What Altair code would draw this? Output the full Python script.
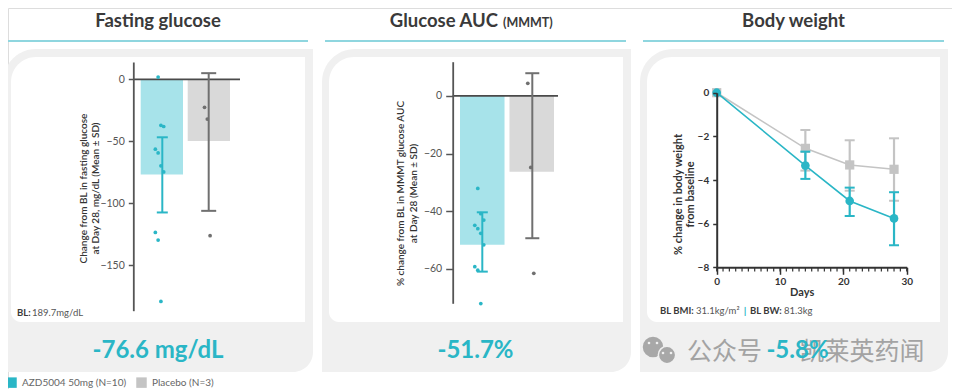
import altair as alt
import pandas as pd

# ---------------- data ----------------
groups = ["AZD5004 50mg (N=10)", "Placebo (N=3)"]
panel_titles = ["Fasting glucose", "Glucose AUC", "Body weight"]
title_suffix = "(MMMT)"
headlines = ["-76.6 mg/dL", "-51.7%", "-5.8%"]
fg_footnote = ["BL:", "189.7mg/dL"]
bw_footnote = ["BL BMI:", "31.1kg/m²", "|", "BL BW:", "81.3kg"]
watermark = ["公众号", "凯莱英药闻"]

# Fasting glucose: change from BL at day 28 (mg/dL)
fg_mean = [-76.6, -49.7]
fg_low = [-107.3, -106.0]
fg_high = [-46.7, 5.0]
fg_azd_points = [1.9, -37.0, -38.0, -56.3, -59.3, -69.7, -74.6, -123.4, -129.6, -179.0]
fg_pbo_points = [-22.5, -32.0, -126.0]
fg_ticks = [0, -50, -100, -150]
fg_ytitle = ["Change from BL in fasting glucose", "at Day 28, mg/dL (Mean ± SD)"]

# Glucose AUC (MMTT): % change from BL at day 28
auc_mean = [-51.7, -26.3]
auc_low = [-61.0, -49.4]
auc_high = [-40.4, 7.9]
auc_azd_points = [-32.1, -40.9, -43.1, -44.9, -46.1, -47.7, -51.7, -59.3, -60.5, -72.1]
auc_pbo_points = [4.4, -24.8, -61.6]
auc_ticks = [0, -20, -40, -60]
auc_ytitle = ["% change from BL in MMMT glucose AUC", "at Day 28 (Mean ± SD)"]

# Body weight: % change from baseline
bw_days = [0, 14, 21, 28]
bw_azd_mean = [0, -3.34, -4.96, -5.76]
bw_azd_low = [0, -3.95, -5.65, -6.99]
bw_azd_high = [0, -2.70, -4.35, -4.56]
bw_pbo_mean = [0, -2.55, -3.31, -3.51]
bw_pbo_low = [0, -3.57, -4.49, -4.95]
bw_pbo_high = [0, -1.71, -2.18, -2.09]
bw_yticks = [0, -2, -4, -6, -8]
bw_xticks = [0, 10, 20, 30]
bw_minor_ticks = list(range(0, 31))
bw_ytitle = ["% change in body weight", "from baseline"]
bw_xtitle = "Days"

# ---------------- styling ----------------
CYAN = "#2ab6c6"
CYAN_LIGHT = "#a7e3ea"
GRAY_BAR = "#d9d9d9"
GRAY_DARK = "#707070"
GRAY_LINE = "#c4c4c4"
PANEL_BG = "#f0f0f0"
UNDERLINE = "#8fd6df"
TXT = "#3a3a3a"
FONT = "Lato"
CJK = "Noto Sans CJK SC"

W, H = 944, 381


def pg(v):
    """page pixel -> plot pixel"""
    return v - 8


one = pd.DataFrame({"k": [0]})


def rect(x0, x1, y0, y1, color, **kw):
    return alt.Chart(one).mark_rect(color=color, **kw).encode(
        x=alt.value(pg(x0)), x2=alt.value(pg(x1)), y=alt.value(pg(y0)), y2=alt.value(pg(y1)))


def hline(x0, x1, y, color, width):
    return alt.Chart(one).mark_rule(color=color, strokeWidth=width).encode(
        x=alt.value(pg(x0)), x2=alt.value(pg(x1)), y=alt.value(pg(y)))


def label(text, x, y, size, color, weight="normal", align="center", baseline="middle", font=FONT, **kw):
    return alt.Chart(one).mark_text(text=text, fontSize=size, color=color, fontWeight=weight,
                                    align=align, baseline=baseline, font=font, **kw).encode(
        x=alt.value(pg(x)), y=alt.value(pg(y)))


def dot(x, y, size, color, **kw):
    return alt.Chart(one).mark_circle(size=size, color=color, opacity=1, **kw).encode(
        x=alt.value(pg(x)), y=alt.value(pg(y)))


layers = []

# panel backgrounds
panels = [((3, 313), (11, 305), (8, 308)),
          ((322, 631), (329, 623), (325, 626)),
          ((640, 948), (647, 940), (643, 944))]
for (gx, wx, ux) in panels:
    layers.append(rect(gx[0], gx[1], 49, 372, PANEL_BG, cornerRadiusTopLeft=33, cornerRadiusBottomRight=20))
    layers.append(rect(wx[0], wx[1], 57, 322, "white", cornerRadiusTopLeft=25, cornerRadiusBottomLeft=10))
    layers.append(hline(ux[0], ux[1], 41, UNDERLINE, 2))

# titles
layers.append(label(panel_titles[0], 158, 26.7, 18.5, TXT, "bold", baseline="alphabetic"))
layers.append(label(panel_titles[1], 498, 26.7, 18.5, TXT, "bold", align="right", baseline="alphabetic"))
layers.append(label(title_suffix, 503, 26.7, 12.5, TXT, "bold", align="left", baseline="alphabetic"))
layers.append(label(panel_titles[2], 793.5, 26.7, 18.5, TXT, "bold", baseline="alphabetic"))

# footnotes
layers.append(label(fg_footnote[0], 17, 312.5, 9.5, TXT, "bold", align="left"))
layers.append(label(fg_footnote[1], 32, 312.5, 9.5, "#555", align="left"))
bw_fx = [660, 696, 745, 750, 784]
for i, t in enumerate(bw_footnote):
    if i == 2:
        layers.append(label(t, bw_fx[i], 310.7, 10, CYAN, "bold"))
    else:
        layers.append(label(t, bw_fx[i], 310.7, 9.5, TXT if i in (0, 3) else "#555",
                            "bold" if i in (0, 3) else "normal", align="left"))

# watermark (drawn before the headline)
layers.append(dot(653, 347, 420, "#a8a8a8"))
layers.append(dot(667, 355, 300, "#a8a8a8", stroke=PANEL_BG, strokeWidth=1.5))
for ex, ey in [(649, 343), (657, 343), (663, 353), (671, 353)]:
    layers.append(dot(ex, ey, 7, PANEL_BG))
layers.append(label(watermark[0], 724.5, 352, 25, "#a3a3a3", font=CJK))
layers.append(label(watermark[1], 862, 352, 25, "#a3a3a3", font=CJK))

# headline numbers
layers.append(label(headlines[0], 158, 357.5, 24, CYAN, "bold", baseline="alphabetic"))
layers.append(label(headlines[1], 475.5, 357.5, 24, CYAN, "bold", baseline="alphabetic"))
layers.append(label(headlines[2], 797.5, 357.5, 24, CYAN, "bold", baseline="alphabetic"))


def bar_panel(mean, low, high, azd_pts, pbo_pts, ticks, ytitle, domain, axis_x, y_top, y_bot,
              band_rng, center_rng, zero_x1, title_x, title_y, cap_sizes, tick_size):
    yscale = alt.Scale(domain=domain, range=[pg(y_bot), pg(y_top)], nice=False, zero=False)
    xband = alt.Scale(domain=groups, range=[pg(band_rng[0]), pg(band_rng[1])], paddingInner=0.1, paddingOuter=0)
    xq = alt.Scale(domain=[0, 1], range=[pg(center_rng[0]), pg(center_rng[1])], nice=False, zero=False)
    summary = pd.DataFrame({"group": groups, "gi": [0, 1], "mean": mean, "lo": low, "hi": high})
    pts = pd.DataFrame({"group": [groups[0]] * len(azd_pts) + [groups[1]] * len(pbo_pts),
                        "gi": [0] * len(azd_pts) + [1] * len(pbo_pts),
                        "value": azd_pts + pbo_pts})
    dark = alt.Scale(domain=groups, range=[CYAN, GRAY_DARK])
    yaxis = alt.Axis(orient="left", offset=-pg(axis_x), values=ticks, title=ytitle,
                     titleX=title_x - axis_x, titleY=pg(title_y), titleAngle=-90, titleAlign="center",
                     titleBaseline="middle", titleFontSize=10, titleFontWeight=600, titleColor="#333",
                     titleFont=FONT, titleLineHeight=12.5, labelFont=FONT, labelFontSize=10.5,
                     labelColor="#555", labelPadding=4, tickSize=tick_size, tickColor="#555",
                     tickWidth=1.5, domainColor="#555", domainWidth=1.8, grid=False, zindex=1)
    bars = alt.Chart(summary).mark_bar().encode(
        x=alt.X("group:N", scale=xband, axis=None),
        y=alt.Y("mean:Q", scale=yscale, axis=yaxis),
        color=alt.Color("group:N", scale=alt.Scale(domain=groups, range=[CYAN_LIGHT, GRAY_BAR]), legend=None))
    zero = alt.Chart(one).mark_rule(color="#4a4a4a", strokeWidth=1.8).encode(
        y=alt.Y(datum=0, scale=yscale, axis=None), x=alt.value(pg(axis_x)), x2=alt.value(pg(zero_x1)))
    err = alt.Chart(summary).mark_rule(strokeWidth=2).encode(
        x=alt.X("gi:Q", scale=xq, axis=None),
        y=alt.Y("lo:Q", scale=yscale, axis=None), y2="hi:Q",
        color=alt.Color("group:N", scale=dark, legend=None))
    caps = alt.Chart(summary).transform_fold(["lo", "hi"], as_=["end", "v"]).mark_tick(
        orient="horizontal", thickness=2, opacity=1).encode(
        x=alt.X("gi:Q", scale=xq, axis=None),
        y=alt.Y("v:Q", scale=yscale, axis=None),
        color=alt.Color("group:N", scale=dark, legend=None),
        size=alt.Size("group:N", scale=alt.Scale(domain=groups, range=cap_sizes), legend=None))
    dots = alt.Chart(pts).transform_window(k="row_number()", groupby=["gi"]).transform_calculate(
        xp="datum.gi + ((datum.k % 4) - 2.5) * 0.06").mark_circle(size=14, opacity=1).encode(
        x=alt.X("xp:Q", scale=xq, axis=None),
        y=alt.Y("value:Q", scale=yscale, axis=None),
        color=alt.Color("group:N", scale=dark, legend=None))
    return [bars, zero, err, caps, dots]


layers += bar_panel(fg_mean, fg_low, fg_high, fg_azd_points, fg_pbo_points, fg_ticks, fg_ytitle,
                    domain=[-186.5, 14], axis_x=133.3, y_top=62, y_bot=310.7,
                    band_rng=(140.7, 230), center_rng=(162.3, 208.7), zero_x1=240,
                    title_x=83, title_y=188, cap_sizes=[11, 15], tick_size=5)
layers += bar_panel(auc_mean, auc_low, auc_high, auc_azd_points, auc_pbo_points, auc_ticks, auc_ytitle,
                    domain=[-72, 11.9], axis_x=452.7, y_top=61.7, y_bot=303.3,
                    band_rng=(460, 554), center_rng=(482.3, 532.3), zero_x1=558,
                    title_x=400.5, title_y=193, cap_sizes=[11, 14], tick_size=7)

# ---------------- body weight ----------------
bw_x = alt.Scale(domain=[0, 30], range=[pg(716.7), pg(906.7)], nice=False, zero=False)
bw_y = alt.Scale(domain=[-8, 0], range=[pg(267.3), pg(92.7)], nice=False, zero=False)
xaxis = alt.Axis(orient="bottom", offset=-(H - pg(267.3)), values=bw_xticks, title=bw_xtitle,
                 titleX=pg(801.7), titleY=292 - 267.3, titleAlign="center", titleBaseline="middle",
                 titleFontSize=11, titleFontWeight="bold", titleColor="#333", titleFont=FONT,
                 labelFont=FONT, labelFontSize=10, labelFontWeight="bold", labelColor="#333",
                 labelPadding=2, labelFlush=False, tickSize=7, tickWidth=1.5, tickColor="#333",
                 domainColor="#333", domainWidth=2, grid=False, zindex=1)
yaxis_bw = alt.Axis(orient="left", offset=-pg(716.7), values=bw_yticks, title=bw_ytitle,
                    titleX=678 - 716.7, titleY=pg(194), titleAngle=-90, titleAlign="center",
                    titleBaseline="middle", titleFontSize=11, titleFontWeight="bold", titleColor="#333",
                    titleFont=FONT, titleLineHeight=12, labelFont=FONT, labelFontSize=10,
                    labelFontWeight="bold", labelColor="#333", labelPadding=4, tickSize=4,
                    tickWidth=1.5, tickColor="#333", domainColor="#333", domainWidth=2, grid=False, zindex=1)

minor = alt.Chart(pd.DataFrame({"d": bw_minor_ticks})).mark_rule(color="#333", strokeWidth=1.2).encode(
    x=alt.X("d:Q", scale=bw_x, axis=None), y=alt.value(pg(267.3)), y2=alt.value(pg(271.5)))
layers.append(minor)

series = [
    (groups[1], bw_pbo_mean, bw_pbo_low, bw_pbo_high, GRAY_LINE, "square", 85),
    (groups[0], bw_azd_mean, bw_azd_low, bw_azd_high, CYAN, "circle", 75),
]
first = True
for g, m, lo, hi, col, shape, msize in series:
    df = pd.DataFrame({"day": bw_days, "group": g, "mean": m, "lo": lo, "hi": hi})
    line = alt.Chart(df).mark_line(color=col, strokeWidth=1.6).encode(
        x=alt.X("day:Q", scale=bw_x, axis=xaxis if first else None),
        y=alt.Y("mean:Q", scale=bw_y, axis=yaxis_bw if first else None))
    first = False
    err = alt.Chart(df).transform_filter("datum.day > 0").mark_rule(color=col, strokeWidth=2.2).encode(
        x=alt.X("day:Q", scale=bw_x, axis=None),
        y=alt.Y("lo:Q", scale=bw_y, axis=None), y2="hi:Q")
    caps = alt.Chart(df).transform_filter("datum.day > 0").transform_fold(["lo", "hi"], as_=["end", "v"]).mark_tick(
        orient="horizontal", thickness=2, size=10, color=col, opacity=1).encode(
        x=alt.X("day:Q", scale=bw_x, axis=None),
        y=alt.Y("v:Q", scale=bw_y, axis=None))
    pts = alt.Chart(df).mark_point(shape=shape, filled=True, size=msize, color=col, opacity=1).encode(
        x=alt.X("day:Q", scale=bw_x, axis=None),
        y=alt.Y("mean:Q", scale=bw_y, axis=None))
    layers += [line, err, caps, pts]

# ---------------- legend ----------------
legend_layer = alt.Chart(pd.DataFrame({"group": groups})).mark_square(size=100, opacity=1).encode(
    x=alt.value(-60), y=alt.value(-60),
    color=alt.Color("group:N", scale=alt.Scale(domain=groups, range=[CYAN, GRAY_LINE]),
                    legend=alt.Legend(orient="none", legendX=pg(6), legendY=pg(377), direction="horizontal",
                                      title=None, symbolType="square", symbolSize=110, symbolStrokeWidth=0,
                                      labelFont=FONT, labelFontSize=10, labelColor="#666",
                                      columnPadding=9, labelOffset=5, padding=0)))
layers.append(legend_layer)

chart = alt.layer(*layers).resolve_scale(
    x="independent", y="independent", color="independent", size="independent"
).properties(
    width=W, height=H, autosize=alt.AutoSizeParams(type="none"), padding=0
).configure_view(stroke=None).configure(font=FONT)

chart.save("out.html", embed_options={"renderer": "svg", "actions": False})
